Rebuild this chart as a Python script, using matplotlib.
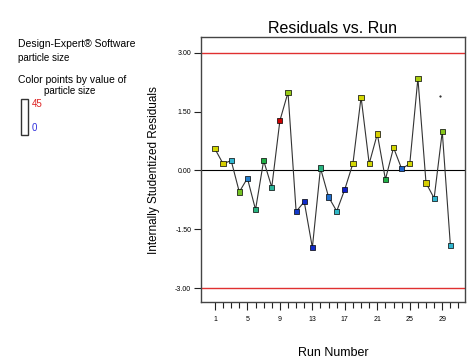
import numpy as np
import matplotlib
matplotlib.use('Agg')
import matplotlib.pyplot as plt
from matplotlib.colors import LinearSegmentedColormap, Normalize

plt.rcParams['font.family'] = ['Liberation Sans', 'DejaVu Sans']

# run order and internally studentized residuals
run = np.arange(1, 31)
residual = [0.55, 0.17, 0.25, -0.55, -0.20, -1.00, 0.25, -0.43, 1.27, 1.99,
            -1.05, -0.80, -1.97, 0.06, -0.68, -1.04, -0.48, 0.18, 1.87, 0.17,
            0.93, -0.23, 0.58, 0.04, 0.17, 2.35, -0.32, -0.71, 0.99, -1.91]
# particle size used for colouring (estimated from the point colours)
particle_size = [32, 33, 12, 27, 8, 18, 22, 16, 45, 29,
                 3, 2, 2, 18, 7, 13, 1, 32, 32, 32,
                 33, 22, 32, 6, 32, 30, 33, 12, 28, 12]
size_range = [0, 45]
limit_lines = [3.0, -3.0]
ytick_vals = [3.0, 1.5, 0.0, -1.5, -3.0]
xtick_major = np.arange(1, 30, 4)

cmap = LinearSegmentedColormap.from_list(
    'de', [(0.0, '#0a10c8'), (0.27, '#30b8d0'), (0.5, '#20b040'),
           (0.72, '#d8d800'), (1.0, '#cc0000')])
norm = Normalize(size_range[0], size_range[1])

fig = plt.figure(figsize=(4.74, 3.64), dpi=100)
ax = fig.add_axes([0.424, 0.170, 0.557, 0.728])

for y in limit_lines:
    ax.axhline(y, color='#e03030', lw=1.0, zorder=1)
ax.axhline(0, color='black', lw=0.8, zorder=1)

ax.plot(run, residual, color='#333333', lw=0.8, zorder=2)
ax.scatter(run, residual, c=particle_size, cmap=cmap, norm=norm, marker='s',
           s=14, edgecolors='black', linewidths=0.5, zorder=3)
# small stray dot near run 29
ax.plot([28.75], [1.89], marker='.', color='black', ms=1.0, zorder=3)

ax.set_xlim(-0.72, 31.8)
ax.set_ylim(-3.36, 3.40)
ax.set_xticks(xtick_major)
ax.set_xticks(np.arange(1, 32), minor=True)
ax.set_yticks(ytick_vals)
ax.set_yticklabels(['%.2f' % v for v in ytick_vals])
ax.tick_params(axis='both', which='both', direction='out', labelsize=5,
               color='#222222', width=0.8)
ax.tick_params(axis='x', which='major', length=6, pad=4)
ax.tick_params(axis='x', which='minor', length=4)
ax.tick_params(axis='y', length=5, pad=2)
for sp in ax.spines.values():
    sp.set_color('#444444')
    sp.set_linewidth(1.0)

ax.set_title('Residuals vs. Run', fontsize=11.5, pad=3)
ax.set_ylabel('Internally Studentized Residuals', fontsize=8.5, labelpad=11)
ax.set_xlabel('Run Number', fontsize=9, labelpad=17)

# Design-Expert side annotation
fig.text(18 / 474, 1 - 44 / 364, 'Design-Expert\u00ae Software', fontsize=7.5, va='center')
fig.text(18 / 474, 1 - 58 / 364, 'particle size', fontsize=7, va='center')
fig.text(18 / 474, 1 - 80 / 364, 'Color points by value of', fontsize=7.5, va='center')
fig.text(70 / 474, 1 - 91 / 364, 'particle size', fontsize=7, va='center', ha='center')
cb = plt.Rectangle((21 / 474, 1 - 135 / 364), 7 / 474, 36 / 364, transform=fig.transFigure,
                   fill=False, edgecolor='#333333', lw=1.0)
fig.patches.append(cb)
fig.text(32 / 474, 1 - 104 / 364, str(size_range[1]), color='#dd2020', fontsize=7, va='center')
fig.text(32 / 474, 1 - 128 / 364, str(size_range[0]), color='#3030dd', fontsize=7, va='center')

fig.savefig('out.png', dpi=100)
